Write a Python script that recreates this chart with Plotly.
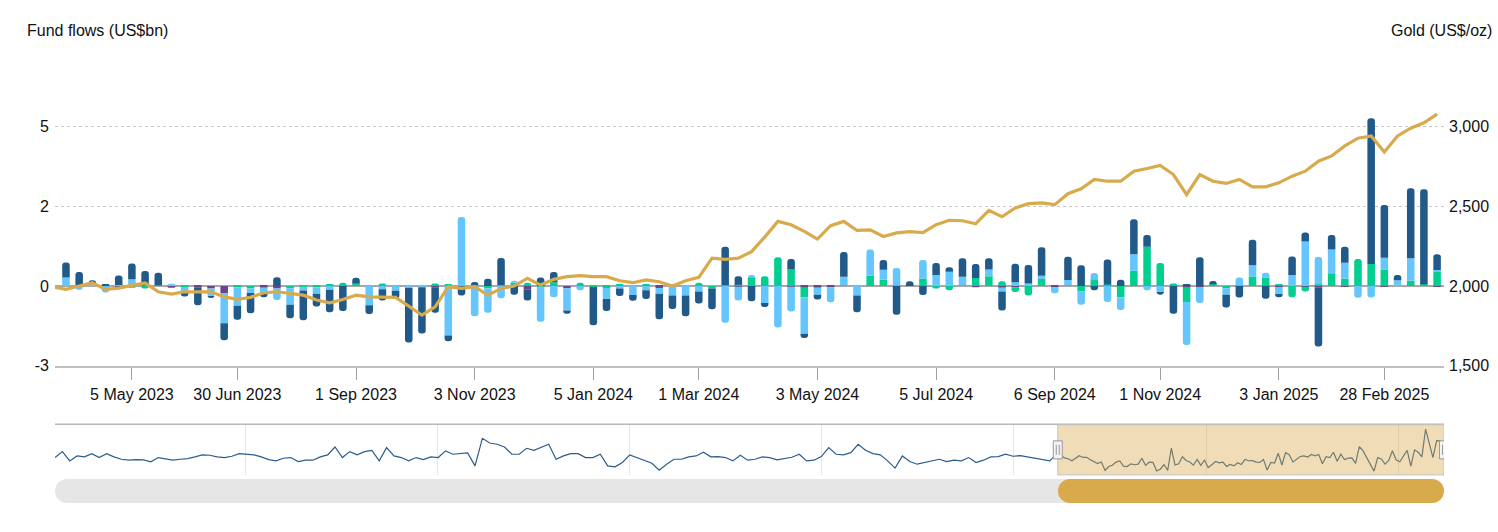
import pandas as pd
import plotly.graph_objects as go

# ---------------- data ----------------
bar_dates = pd.date_range("2023-03-31", periods=105, freq="7D")
gold_dates = pd.date_range("2023-03-24", periods=106, freq="7D")

north_america = [
    0.47, 0.44, 0.10, 0.05, 0.30, 0.50, 0.45, 0.40, 0.00, -0.15,
    -0.55, -0.02, -0.53, -0.44, -0.63, -0.10, 0.28, -0.42, -0.93, -0.40,
    -0.70, -0.78, 0.19, -0.28, -0.35, -0.25, -1.72, -1.45, -0.80, -0.18,
    -0.30, 0.10, 0.23, 0.85, -0.27, -0.33, 0.27, 0.32, -0.10, 0.00,
    -1.20, -0.37, -0.23, -0.18, -0.28, -0.80, -0.42, -0.65, -0.38, -0.65,
    1.20, 0.27, -0.48, -0.13, 0.00, 0.33, -0.13, -0.15, 0.00, 0.78,
    -0.52, 0.00, 0.31, -0.90, 0.15, -0.28, 0.37, 0.14, 0.58, 0.44,
    0.35, -0.60, 0.58, 0.58, 0.90, 0.00, 0.73, 0.65, -0.13, 0.78,
    0.20, 1.10, 0.37, -0.05, -0.87, 0.05, 0.90, 0.10, -0.40, -0.36,
    0.80, -0.40, -0.10, 0.58, 0.28, -1.85, 0.45, 0.50, 0.00, 4.58,
    1.65, 0.17, 2.20, 2.98, 0.50,
]
europe = [
    0.27, -0.12, 0.08, -0.20, 0.03, 0.21, 0.02, 0.02, 0.07, -0.15,
    0.00, -0.25, -0.95, -0.58, -0.15, -0.20, -0.36, -0.52, -0.12, -0.20,
    -0.12, 0.00, 0.00, -0.60, -0.10, -0.15, -0.05, -0.04, 0.00, -1.55,
    2.17, -0.95, -0.77, -0.38, 0.07, 0.00, -1.10, -0.35, -0.70, -0.13,
    0.00, -0.35, -0.08, -0.28, -0.13, -0.18, -0.30, -0.30, -0.17, 0.00,
    -1.15, -0.43, 0.07, -0.53, -1.30, -0.78, -1.15, -0.22, -0.47, 0.27,
    -0.30, 0.82, 0.31, 0.55, 0.00, 0.58, 0.35, 0.45, 0.27, 0.00,
    0.21, -0.12, 0.12, 0.08, 0.10, -0.20, 0.17, -0.42, 0.20, -0.50,
    -0.40, 0.52, -0.13, -0.22, 0.00, -1.35, -0.50, 0.00, -0.20, 0.25,
    0.35, 0.15, -0.22, 0.35, 1.40, 0.85, 0.75, 0.50, -0.37, -0.36,
    0.37, 0.18, 0.70, 0.00, 0.05,
]
asia = [
    0, 0, 0, 0, 0, -0.05, -0.08, 0, 0, -0.03,
    0, 0, 0, -0.04, -0.07, 0, 0, -0.07, -0.02, -0.04,
    0.04, 0.10, 0.07, 0, 0.08, 0, 0.02, 0, 0.08, 0.04,
    0, 0.03, -0.07, 0.03, 0.10, 0.10, -0.02, 0.12, 0, 0.10,
    -0.03, -0.06, 0.05, 0, 0.06, 0, 0, 0, 0.10, -0.08,
    0.03, 0.04, 0.28, 0.31, 0.90, 0.52, -0.30, 0, 0, 0.02,
    0, 0.33, 0.20, 0.02, 0, 0.24, -0.08, -0.13, 0.02, 0.25,
    0.31, 0.15, -0.15, -0.30, 0.22, 0, 0.02, -0.17, 0.21, 0.05,
    -0.35, 0.48, 1.23, 0.72, 0.08, -0.45, 0, 0.06, -0.07, 0.02,
    0.30, 0.27, 0.05, -0.35, -0.15, 0.06, 0.40, 0.23, 0.85, 0.69,
    0.52, 0, 0.17, 0.06, 0.45,
]
other = [
    0, 0, 0, 0, -0.03, 0, 0, 0, -0.05, 0,
    -0.05, -0.08, -0.22, 0, 0, -0.05, -0.08, 0, 0, 0,
    0, 0, 0, 0, 0, 0, 0, 0, -0.04, 0,
    0, 0, 0, 0, 0, -0.12, 0, 0, -0.07, 0,
    0, 0, 0, 0, 0, -0.06, 0, 0, 0, 0,
    0, -0.02, 0, 0, 0, -0.02, -0.05, -0.05, -0.04, 0,
    0, 0, 0, 0, 0, 0, 0, 0, 0, -0.04,
    0, -0.05, -0.04, 0, 0, -0.03, 0, 0, 0, 0,
    0, 0, 0, 0, 0, -0.05, -0.03, 0, 0, 0,
    0, 0, -0.03, 0, -0.02, -0.05, 0, -0.02, 0, 0,
    -0.02, 0, 0, 0, -0.02,
]
gold = [
    1995, 1979, 2000, 2021, 1979, 1987, 2004, 2020, 1964, 1950,
    1964, 1964, 1964, 1932, 1916, 1929, 1958, 1964, 1954, 1943,
    1912, 1895, 1916, 1943, 1932, 1929, 1929, 1874, 1817, 1869,
    1996, 1985, 1996, 1943, 1985, 2000, 2049, 2006, 2042, 2059,
    2065, 2059, 2059, 2033, 2021, 2038, 2027, 2000, 2033, 2055,
    2175, 2168, 2175, 2216, 2307, 2406, 2385, 2343, 2295, 2379,
    2406, 2349, 2353, 2311, 2334, 2341, 2336, 2385, 2413, 2410,
    2391, 2475, 2435, 2490, 2517, 2522, 2511, 2580, 2610, 2669,
    2658, 2658, 2721, 2738, 2757, 2700, 2574, 2700, 2658, 2644,
    2669, 2623, 2623, 2648, 2690, 2721, 2784, 2817, 2880, 2928,
    2942, 2841, 2942, 2991, 3025, 3079,
]
# earlier total flows shown in the navigator (fortnightly readings, US$bn)
nav_history = [
    0.37, 1.32, -0.16, 0.63, 0.48, 1.0, 0.37, 1.0, 0.48, 0.1,
    -0.05, 0.05, 0, -0.32, 0.37, 0.1, -0.05, 0.1, 0.21, 0.48,
    0.8, 0.74, 0.48, 0.37, 0.58, 1.0, 0.9, 0.8, 0.48, 0.05,
    -0.16, 0.26, 0.37, -0.26, -0.05, -0.05, 0.48, 0.8, 2.06, 0.37,
    1.32, 0.8, 1.32, 1.53, -0.16, 1.96, 0.63, 0.37, -0.16, 0.37,
    0.05, 0.48, 0.37, 1.43, 0.9, 1.0, 1.11, -0.95, 3.44, 2.7,
    2.49, 2.06, 0.9, 0.9, 1.85, 1.53, 1.96, 2.49, 0.1, 0.63,
    1.0, 1.0, 0.37, 0.37, 0.9, -0.95, -1.11, -0.42, 0.8, 0.37,
    -0.05, -0.53, -1.64, -0.69, 0.1, 0.1, 0.48, 0.63, 1.22, 0.48,
    0.53, 0.37, -0.16, 0.74, -0.05,
    0.1, 0.48, 0.37, 0, 0.16, 0.42, 0.9, -0.16, -0.05, 0.53,
    1.96, 0.9, 0.8, 1.16, 2.49, 1.53, 1.0, 0.8, -0.16, -1.32,
    0.63, -0.26, -0.69, -0.42, -0.1, 0.1, -0.26, -0.05, -0.16, 0.37,
    -0.42, -0.05, 0.48, 0.53, 0.9, 0.58, 0.69, 0.48, 0.37, 0.05,
    -0.16, 1.0,
]
nav_history_dates = pd.date_range("2018-01-05", periods=len(nav_history), freq="14D")

tick_dates = ["2023-05-05", "2023-06-30", "2023-09-01", "2023-11-03", "2024-01-05",
              "2024-03-01", "2024-05-03", "2024-07-05", "2024-09-06", "2024-11-01",
              "2025-01-03", "2025-02-28"]
tick_labels = ["5 May 2023", "30 Jun 2023", "1 Sep 2023", "3 Nov 2023", "5 Jan 2024",
               "1 Mar 2024", "3 May 2024", "5 Jul 2024", "6 Sep 2024", "1 Nov 2024",
               "3 Jan 2025", "28 Feb 2025"]
left_ticks = [-2.5, 0, 2.5, 5, 7.5]
left_labels = ["-3", "0", "2", "5", ""]
right_ticks = [1500, 2000, 2500, 3000]
right_labels = ["1,500", "2,000", "2,500", "3,000"]
nav_year_ticks = ["2019-01-01", "2020-01-01", "2021-01-01", "2022-01-01",
                  "2023-01-01", "2024-01-01", "2025-01-01"]

# ---------------- styles ----------------
W, H = 1498, 532
HE = 522  # effective rendered height used for paper fractions
L, R = 55, 1444
FONT = "Liberation Sans, Arial, sans-serif"
C_NA, C_EU, C_AS, C_OT = "#215a88", "#64c6fd", "#00cf90", "#6b4587"
C_GOLD = "#d9aa4b"
view_start, view_end = "2023-03-25 04:00", "2025-03-31 16:00"
nav_start, nav_end = "2018-01-05", "2025-03-28"


def px(x):
    return (x - L) / (R - L)


def py(y):
    return (HE - y) / HE


fig = go.Figure()
bar_w = 4 * 86400000
for name, vals, col in [("Other", other, C_OT), ("Asia", asia, C_AS),
                        ("Europe", europe, C_EU), ("North America", north_america, C_NA)]:
    fig.add_trace(go.Bar(x=bar_dates, y=vals, name=name, marker=dict(color=col, line=dict(width=0)),
                         width=bar_w, xaxis="x", yaxis="y"))

fig.add_trace(go.Scatter(x=gold_dates, y=gold, mode="lines", name="Gold",
                         line=dict(color=C_GOLD, width=3.2), xaxis="x", yaxis="y2"))

totals = [o + a + e + n for o, a, e, n in zip(other, asia, europe, north_america)]
nav_x = list(nav_history_dates) + list(bar_dates)
nav_y = nav_history + totals
fig.add_trace(go.Scatter(x=nav_x, y=nav_y, mode="lines", line=dict(color="#2b5d8c", width=1.2),
                         xaxis="x2", yaxis="y3", hoverinfo="skip"))

shapes = []
# navigator outline
shapes.append(dict(type="line", xref="paper", yref="paper", x0=0, x1=1, y0=py(423.5), y1=py(423.5),
                   line=dict(color="#b8b8b8", width=1.5), layer="above"))
# navigator mask
shapes.append(dict(type="rect", xref="x2", yref="paper", x0=view_start, x1=nav_end,
                   y0=py(474), y1=py(424), fillcolor="rgba(217,170,75,0.4)",
                   line=dict(color="#c4c4c4", width=1), layer="above"))
# handles
for anchor in [view_start, nav_end]:
    shapes.append(dict(type="rect", xref="x2", xsizemode="pixel", xanchor=anchor, x0=-4.5, x1=4.5,
                       yref="paper", y0=py(458), y1=py(440), fillcolor="#f2f2f2",
                       line=dict(color="#999999", width=1), layer="above"))
    for off in (-1.5, 1.5):
        shapes.append(dict(type="line", xref="x2", xsizemode="pixel", xanchor=anchor, x0=off, x1=off,
                           yref="paper", y0=py(454), y1=py(444),
                           line=dict(color="#999999", width=1), layer="above"))
# scrollbar
r = 12
yc = 490
for (a, b, col) in [(L, R, "#e6e6e6"), (1058, R, C_GOLD)]:
    shapes.append(dict(type="rect", xref="paper", yref="paper", x0=px(a + r), x1=px(b - r),
                       y0=py(yc + r), y1=py(yc - r), fillcolor=col, line=dict(width=0)))
    for c in (a + r, b - r):
        shapes.append(dict(type="circle", xref="paper", yref="paper", x0=px(c - r), x1=px(c + r),
                           y0=py(yc + r), y1=py(yc - r), fillcolor=col, line=dict(width=0)))

annotations = [
    dict(text="Fund flows (US$bn)", xref="paper", yref="paper", x=px(25), y=py(30),
         xanchor="left", yanchor="middle", showarrow=False, font=dict(size=16, color="#111", family=FONT)),
    dict(text="Gold (US$/oz)", xref="paper", yref="paper", x=px(1494), y=py(30),
         xanchor="right", yanchor="middle", showarrow=False, font=dict(size=16, color="#111", family=FONT)),
]

fig.update_layout(
    width=W, height=H,
    margin=dict(l=L, r=W - R, t=0, b=0, pad=0),
    paper_bgcolor="white", plot_bgcolor="white",
    barmode="relative", barcornerradius=4, showlegend=False,
    font=dict(family=FONT, size=16, color="#111"),
    shapes=shapes, annotations=annotations,
    xaxis=dict(type="date", domain=[0, 1], anchor="y", range=[view_start, view_end],
               tickvals=tick_dates, ticktext=tick_labels, ticks="outside", ticklen=12,
               tickcolor="#a0a0a0", tickwidth=1, showgrid=False, showline=True,
               linecolor="#c0c0c0", linewidth=2, zeroline=False, ticklabelstandoff=1,
               tickfont=dict(size=16, color="#111")),
    yaxis=dict(domain=[py(365), py(47)], range=[-2.5, 7.5], tickvals=left_ticks, ticktext=left_labels,
               showgrid=True, gridcolor="#c8c8c8", griddash="dot", gridwidth=1,
               zeroline=True, zerolinecolor="#a8a8a8", zerolinewidth=2, showline=False,
               ticks="", ticklabelstandoff=5, tickfont=dict(size=16, color="#111")),
    yaxis2=dict(overlaying="y", side="right", anchor="x", range=[1500, 3500],
                tickvals=right_ticks, ticktext=right_labels, showgrid=False, zeroline=False,
                ticks="", ticklabelstandoff=4, tickfont=dict(size=16, color="#111")),
    xaxis2=dict(type="date", domain=[0, 1], anchor="y3", range=[nav_start, nav_end],
                tickvals=nav_year_ticks, showticklabels=False, ticks="", showgrid=True,
                gridcolor="#e6e6e6", gridwidth=1, zeroline=False, showline=False),
    yaxis3=dict(domain=[py(474), py(424)], range=[-2.4, 5.6], visible=False, showgrid=False),
)

fig.write_html("out.html", config={"displayModeBar": False},
               post_script="document.body.style.margin='0';document.body.style.overflow='hidden';")
